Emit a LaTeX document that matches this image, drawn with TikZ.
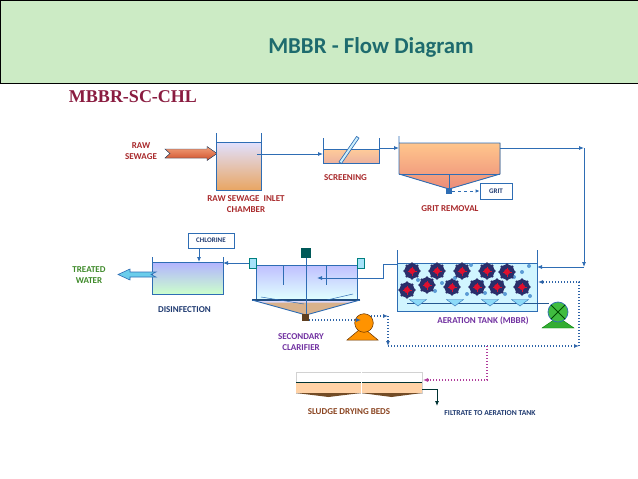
\documentclass[tikz,border=0pt]{standalone}
\usepackage{fontspec}
\setmainfont{Carlito}
\newfontfamily\timesfont{Liberation Serif}
\usetikzlibrary{arrows.meta}
\definecolor{hdrgreen}{HTML}{CCEBC5}
\definecolor{titleteal}{HTML}{1E6B6E}
\definecolor{codemaroon}{HTML}{8A1C40}
\definecolor{pipeblue}{HTML}{2E6DB4}
\definecolor{lblred}{HTML}{A8282A}
\definecolor{lblpurple}{HTML}{7030A0}
\definecolor{lblnavy}{HTML}{1F3A70}
\definecolor{lblgreen}{HTML}{3F8A2A}
\definecolor{lblbrown}{HTML}{8A4420}
\definecolor{medianavy}{HTML}{2A2E6A}
\definecolor{mediared}{HTML}{E0102E}
\definecolor{bubble}{HTML}{5B9BD5}
\definecolor{dotblue}{HTML}{2E64A8}
\definecolor{dotpink}{HTML}{B03C9C}
\definecolor{rawlight}{HTML}{F2A07A}
\definecolor{rawdark}{HTML}{D0502A}
\definecolor{watercyan}{HTML}{6BCDEB}
\tikzset{
  wall/.style={draw=pipeblue, line width=0.9pt},
  pipe/.style={pipeblue, line width=0.8pt, -{Latex[length=5pt,width=4pt]}},
  dotpipe/.style={dotblue, line width=1.4pt, dash pattern=on 1.4pt off 1.6pt, -{Latex[length=5pt,width=4pt]}},
  lbl/.style={font=\bfseries\fontsize{9}{11.5}\selectfont, align=center, inner sep=0pt},
  tinylbl/.style={font=\bfseries\fontsize{7}{8}\selectfont, inner sep=0pt, text=lblnavy},
}
\begin{document}
\begin{tikzpicture}[x=1pt,y=-1pt]
	\useasboundingbox (0,0) rectangle (638,479);
	% header band
	\fill[hdrgreen] (0,0) rectangle (638,83);
	\draw[black, line width=0.8pt] (638,0.5) -- (0.5,0.5) -- (0.5,83) -- (638,83);
	\node[font=\bfseries\fontsize{22.8}{26}\selectfont, text=titleteal] (title) at (371,47) {MBBR - Flow Diagram};
	\node[font=\timesfont\bfseries\fontsize{18}{20}\selectfont, text=codemaroon] (code) at (133,97) {MBBR-SC-CHL};
	% raw sewage inlet
	\filldraw[top color=rawlight, bottom color=rawdark, draw=pipeblue!60!black, line width=0.4pt] (165,149) -- (207,149) -- (207,146.5) -- (217,153.5) -- (207,160.5) -- (207,158) -- (165,158) -- (170,153.5) -- cycle;
	\node[lbl, text=lblred] (rawlbl) at (141,151) {RAW\\SEWAGE};
	% inlet chamber
	\fill[top color=blue!12!white, middle color=brown!25!white, bottom color=orange!50!brown!70!white] (216,142) rectangle (261,190);
	\draw[wall] (216,133) -- (216,190) -- (261,190) -- (261,133);
	\draw[wall, line width=0.5pt] (216,142) -- (261,142);
	\node[lbl, text=lblred] (inletlbl) at (246,204) {RAW SEWAGE\ \ INLET\\CHAMBER};
	% screening
	\fill[top color=orange!40!white, bottom color=red!35!brown!45!white] (323,149) rectangle (379,163);
	\draw[wall] (323,138) -- (323,163) -- (379,163) -- (379,138);
	\draw[wall, line width=0.5pt] (323,149) -- (379,149);
	\draw[pipeblue, line width=3.6pt] (340,163) -- (358,137);
	\draw[cyan!20!white, line width=2pt] (340.5,162.3) -- (357.5,137.7);
	\node[lbl, text=lblred] (screenlbl) at (345.5,178) {SCREENING};
	% grit removal
	\fill[top color=orange!45!white, bottom color=red!50!brown!60!white] (399,143) -- (500,143) -- (500,174) -- (449,189) -- (399,174) -- cycle;
	\draw[wall] (399,136) -- (399,174) -- (449,189) -- (500,174) -- (500,143) -- (399,143);
	\draw[wall] (399,174) -- (500,174);
	\draw[wall] (449,174) -- (449,189);
	\fill[pipeblue] (446,188) rectangle (452,194);
	\coordinate (gritsq) at (452,191);
	\node[tinylbl, draw=pipeblue, line width=0.8pt, minimum width=32pt, minimum height=16pt] (grit) at (496,191) {GRIT};
	\draw[pipeblue, line width=0.8pt, dashed, -{Latex[length=4pt,width=3.5pt]}] (gritsq) -- (grit.west);
	\node[lbl, text=lblred] (gritlbl) at (450,209) {GRIT REMOVAL};
	% top row pipes
	\coordinate (inletout) at (257,154);
	\coordinate (screenin) at (323,154);
	\coordinate (screenout) at (379,148);
	\coordinate (gritin) at (399,148);
	\coordinate (gritout) at (500,148);
	\coordinate (bend1) at (584,148);
	\coordinate (bend2) at (584,267);
	\coordinate (aerin) at (537,267);
	\draw[pipe] (inletout) -- (screenin);
	\draw[pipe] (screenout) -- (gritin);
	\draw[pipe] (gritout) -- (bend1);
	\draw[pipe] (bend1) -- (bend2);
	\draw[pipe] (bend2) -- (aerin);
	% aeration tank
	\fill[blue!22!cyan!18!white] (397,263) rectangle (537,311);
	\draw[wall] (397,250) -- (397,311) -- (537,311) -- (537,250);
	\draw[wall, line width=0.5pt] (397,263) -- (537,263);
	\foreach \bx/\by in {471/265,529/266,522/272,514/277,482/282,502/283,442/283,467/294,485/293,505/294,435/291,418/280,455/278,530/296}
		\fill[bubble] (\bx,\by) circle (2);
	\foreach \mx/\my in {412/271,437/271,462/271,487/271,507/272,407/290,427/285,452/287,477/287,497/287,522/287} {
		\begin{scope}[shift={(\mx,\my)}]
			\fill[medianavy] (0,0) circle (7.5);
			\foreach \a in {0,45,...,315}
				\fill[medianavy] (\a:7.3) circle (1.6);
			\fill[mediared] (0,0) circle (3);
			\draw[mediared, line width=0.8pt] (-4.5,0) -- (4.5,0) (0,-4.5) -- (0,4.5);
		\end{scope}
	}
	\coordinate (airin) at (407,303);
	\coordinate (blower) at (549,303);
	\draw[pipeblue!80!black, line width=0.8pt] (airin) -- (blower);
	\foreach \dx in {418,455,490,520}
		\filldraw[fill=cyan!45!white, draw=pipeblue, line width=0.4pt] (\dx-8.5,299.5) -- (\dx+8.5,299.5) -- (\dx,306) -- cycle;
	\node[lbl, text=lblpurple] (aerlbl) at (483,321) {AERATION TANK (MBBR)};
	% blower
	\filldraw[fill=green!60!black!80!white, draw=green!50!black] (542,328) -- (574,328) -- (558,317) -- cycle;
	\filldraw[fill=green!65!black!75!white, draw=pipeblue, line width=0.7pt] (558,312) circle (10);
	\draw[green!30!black, line width=0.8pt] (551,305) -- (565,319) (551,319) -- (565,305);
	% secondary clarifier
	\fill[top color=blue!25!white, bottom color=cyan!12!white] (256,265) rectangle (357,299);
	\fill[brown!60!white] (252,300) -- (360,300) -- (306,315) -- cycle;
	\fill[blue!15!white] (252,300) -- (360,300) -- (351,302.5) -- (261,302.5) -- cycle;
	\draw[wall] (256,299) -- (256,265) -- (357,265) -- (357,299);
	\draw[pipeblue!70!black, line width=1.2pt] (252,300) -- (360,300);
	\draw[wall] (252,300) -- (306,315) -- (360,300);
	\draw[pipeblue, line width=0.5pt] (261,297) -- (304,304) (327,300) -- (353,294);
	\filldraw[fill=cyan!35!white, draw=teal, line width=0.5pt] (249,258) rectangle (256,268);
	\filldraw[fill=cyan!35!white, draw=teal, line width=0.5pt] (357,258) rectangle (364,268);
	\draw[wall] (306,258) -- (306,315);
	\fill[teal!70!black] (301,248) rectangle (311,258);
	\draw[wall] (283,265) -- (283,285);
	\draw[wall] (326,265) -- (326,285);
	\fill[brown!50!black] (302,314) rectangle (309,321);
	\node[lbl, text=lblpurple] (clarlbl) at (301,342) {SECONDARY\\CLARIFIER};
	\coordinate (aerout) at (397,264);
	\coordinate (weir) at (383,264);
	\coordinate (clarin) at (317,278);
	\draw[pipe] (aerout) -- (weir) |- (clarin);
	% return sludge pump
	\filldraw[fill=orange!85!yellow, draw=orange!40!black, line width=0.5pt] (347,340) -- (378,340) -- (362.5,327) -- cycle;
	\filldraw[fill=orange!85!yellow, draw=orange!40!black, line width=0.5pt] (364,323) circle (9.3);
	\coordinate (clarsl) at (309,320);
	\coordinate (pumpin) at (361,320);
	\coordinate (pumpout) at (371,316);
	\coordinate (ret1) at (388,316);
	\coordinate (ret2) at (388,346);
	\coordinate (ret3) at (579,346);
	\coordinate (aerret) at (538,282);
	\draw[dotpipe] (clarsl) -- (pumpin);
	\draw[dotpipe] (pumpout) -- (ret1);
	\draw[dotpipe] (ret1) -- (ret2);
	\draw[dotpipe] (ret2) -- (ret3);
	\draw[dotpipe] (ret3) |- (aerret);
	% disinfection
	\fill[top color=blue!30!white, bottom color=green!20!white] (152,262) rectangle (223,294);
	\draw[wall] (152,257) -- (152,294) -- (223,294) -- (223,257);
	\draw[wall, line width=0.5pt] (152,262) -- (223,262);
	\node[tinylbl, draw=pipeblue, line width=0.8pt, minimum width=46pt, minimum height=15pt] (chlor) at (211,240.5) {CHLORINE};
	\coordinate (chlin) at (199,262);
	\draw[pipe] (chlin |- chlor.south) -- (chlin);
	\coordinate (clarout) at (249,263);
	\coordinate (disin) at (223,263);
	\draw[pipe] (clarout) -- (disin);
	\filldraw[fill=watercyan, draw=pipeblue, line width=0.6pt] (118,274.5) -- (130,269) -- (130,272) -- (156,272) -- (151,274.5) -- (156,277) -- (130,277) -- (130,280) -- cycle;
	\node[lbl, text=lblgreen] (treatlbl) at (89,275) {TREATED\\WATER};
	\node[lbl, text=lblnavy] (dislbl) at (184.5,310) {DISINFECTION};
	% sludge drying beds
	\draw[gray!35, line width=0.4pt] (296,372) rectangle (422,393);
	\fill[orange!35!white] (296,382) rectangle (422,393);
	\draw[teal!40!black, line width=0.9pt] (296,382) -- (422,382);
	\fill[brown!60!black] (296,393) -- (361,393) -- (328.5,397) -- cycle;
	\fill[brown!60!black] (361,393) -- (422,393) -- (391.5,397) -- cycle;
	\draw[white, line width=1pt] (361,372) -- (361,394);
	\coordinate (waste) at (487,346);
	\coordinate (bedin) at (423,380);
	\draw[dotpipe, dotpink] (waste) |- (bedin);
	\coordinate (bedout) at (422,389);
	\coordinate (filtend) at (437,406);
	\draw[teal!40!black, line width=0.8pt, -{Latex[length=5pt,width=4pt]}] (bedout) -| (filtend);
	\node[lbl, text=lblbrown] (bedlbl) at (349,412) {SLUDGE DRYING BEDS};
	\node[tinylbl, font=\bfseries\fontsize{7.6}{9}\selectfont] (filtlbl) at (490,413) {FILTRATE TO AERATION TANK};
\end{tikzpicture}
\end{document}
